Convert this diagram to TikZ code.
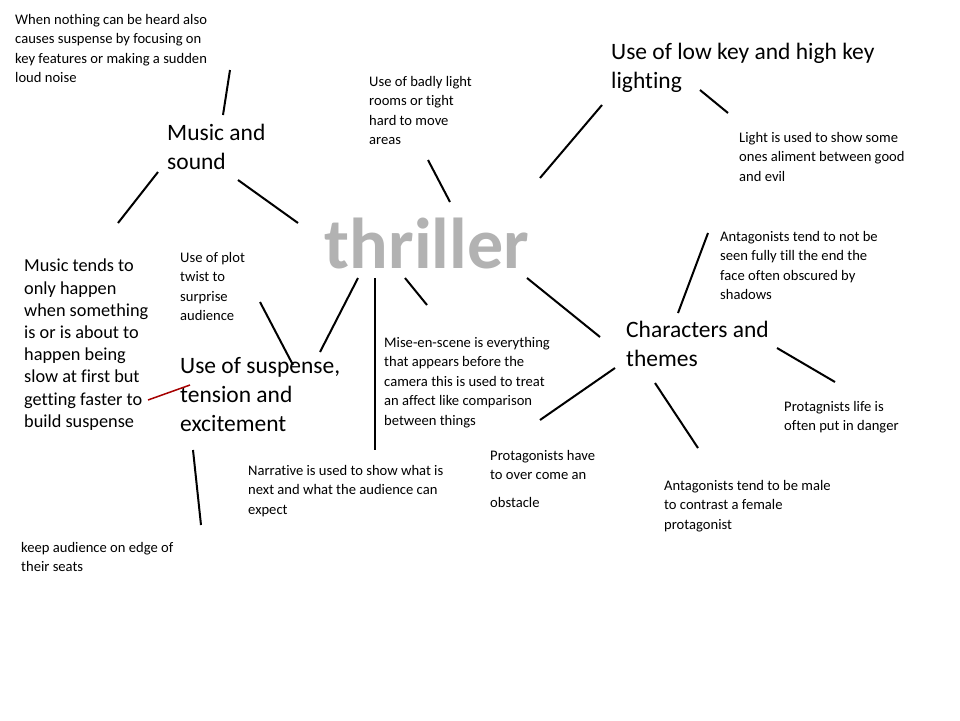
\documentclass[tikz,border=0pt]{standalone}
\usepackage{fontspec}
\setmainfont{Carlito}[Ligatures=NoCommon]
\begin{document}
\begin{tikzpicture}[x=1pt,y=-1pt,
  sm/.style={anchor=north west,inner sep=0pt,align=left,font=\fontsize{14.6}{19.5}\selectfont},
  md/.style={anchor=north west,inner sep=0pt,align=left,font=\fontsize{18.3}{22.2}\selectfont},
  lg/.style={anchor=north west,inner sep=0pt,align=left,font=\fontsize{23.5}{29}\selectfont},
  ln/.style={line width=2pt,black}]
\useasboundingbox (0,0) rectangle (960,720);
\node[sm] (t1) at (15,14) {When nothing can be heard also\\causes suspense by focusing on\\key features or making a sudden\\loud noise};
\node[lg] (ms) at (167,124) {Music and\\sound};
\node[sm] (t2) at (369,76) {Use of badly light\\rooms or tight\\hard to move\\areas};
\node[lg] (lk) at (611,43) {Use of low key and high key\\lighting};
\node[sm] (t3) at (739,132) {Light is used to show some\\ones aliment between good\\and evil};
\node[sm] (t4) at (720,231) {Antagonists tend to not be\\seen fully till the end the\\face often obscured by\\shadows};
\node[md] (t5) at (24,259) {Music tends to\\only happen\\when something\\is or is about to\\happen being\\slow at first but\\getting faster to\\build suspense};
\node[sm] (t6) at (180,252) {Use of plot\\twist to\\surprise\\audience};
\node[lg] (su) at (180,357) {Use of suspense,\\tension and\\excitement};
\node[lg] (ch) at (626,321) {Characters and\\themes};
\node[sm] (t7) at (384,337) {Mise-en-scene is everything\\that appears before the\\camera this is used to treat\\an affect like comparison\\between things};
\node[sm] (t8) at (784,401) {Protagnists life is\\often put in danger};
\node[sm] (t9) at (490,450) {Protagonists have\\to over come an};
\node[sm] (t9b) at (490,497) {obstacle};
\node[sm] (t10) at (248,465) {Narrative is used to show what is\\next and what the audience can\\expect};
\node[sm] (t11) at (664,480) {Antagonists tend to be male\\to contrast a female\\protagonist};
\node[sm] (t12) at (21,542) {keep audience on edge of\\their seats};
\node[inner sep=0pt,text=gray!60,font=\bfseries\fontsize{72}{72}\selectfont] (th) at (427,243) {thriller};
\foreach \a/\b in {{223,115}/{230,70},{158,172}/{118,223},{238,180}/{298,223},{428,160}/{450,202},
  {540,178}/{602,105},{700,90}/{728,113},{260,302}/{293,365},{358,278}/{320,352},{375,278}/{375,450},
  {405,278}/{427,305},{527,278}/{600,337},{708,233}/{678,313},{777,348}/{835,382},{655,383}/{698,448},
  {615,368}/{540,420},{193,450}/{201,525}}
  \draw[ln] (\a) -- (\b);
\draw[line width=1.5pt,red!65!black] (148,400) -- (190,385);
\end{tikzpicture}
\end{document}
